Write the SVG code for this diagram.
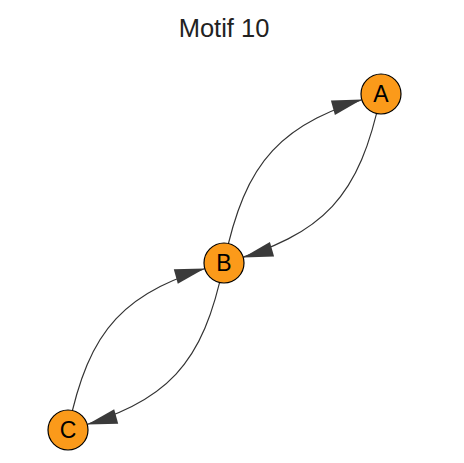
<svg xmlns="http://www.w3.org/2000/svg" width="464" height="463" viewBox="0 0 464 463">
<style>
.edge{fill:none;stroke:#333;stroke-width:1.2}
.head{fill:#3a3a3a;stroke:none}
.node circle{fill:#fb9a1a;stroke:#000;stroke-width:1.2}
.node text{font-family:"Liberation Sans",Arial,sans-serif;font-size:23px;text-anchor:middle;fill:#000}
.title{font-family:"Liberation Sans",Arial,sans-serif;font-size:25.5px;text-anchor:middle;fill:#222}
</style>
<rect width="464" height="463" fill="#fff"/>
<text class="title" x="224" y="37">Motif 10</text>
<g id="connectors">
<path class="edge" d="M224,263 C245.4,160 279.9,122.8 381,94"/>
<polygon class="head" points="361.8,99.5 334.9,114.9 330.9,100.5"/>
<path class="edge" d="M381,94 C359.5,197 325,234.1 224,263"/>
<polygon class="head" points="243.2,257.5 274.1,256.5 269.9,242.0"/>
<path class="edge" d="M68,430 C89.1,327.8 123.4,291.1 224,263"/>
<polygon class="head" points="204.7,268.4 177.8,283.7 173.8,269.3"/>
<path class="edge" d="M224,263 C202.9,365.2 168.6,401.9 68,430"/>
<polygon class="head" points="87.3,424.6 118.2,423.7 114.2,409.3"/>
</g>
<g id="A" class="node"><circle cx="381" cy="94" r="20"/><text x="381" y="102">A</text></g>
<g id="B" class="node"><circle cx="224" cy="263" r="20"/><text x="224" y="271">B</text></g>
<g id="C" class="node"><circle cx="68" cy="430" r="20"/><text x="68" y="438">C</text></g>
</svg>
